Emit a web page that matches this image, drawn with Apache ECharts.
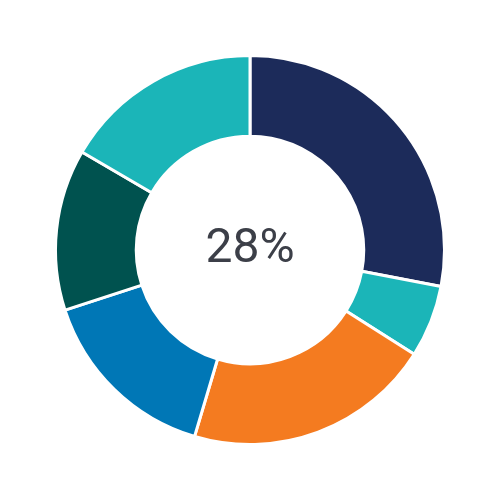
<!DOCTYPE html>
<html lang="en">
<head>
  <meta charset="UTF-8">
  <title>Donut</title>
  <script src="https://cdn.jsdelivr.net/npm/echarts@6/dist/echarts.min.js"></script>
  <style>
    html, body { margin: 0; padding: 0; background: #fff; }
  </style>
</head>
<body>
  <div id="main" style="width: 500px; height: 500px;"></div>
  <script>
    // data, clockwise from 12 o'clock
    var names = ['A', 'B', 'C', 'D', 'E', 'F'];
    var values = [28, 6, 20.6, 15.4, 13.4, 16.6];
    var colors = ['#1c2b5a', '#1bb5b8', '#f47b20', '#0077b6', '#00524f', '#1bb5b8'];
    var centerText = '28%';

    var myChart = echarts.init(document.getElementById('main'));

    var pieData = names.map(function (n, i) {
      return { name: n, value: values[i], itemStyle: { color: colors[i] } };
    });

    var option = {
      animation: false,
      title: {
        text: centerText,
        left: 'center',
        top: 221,
        textStyle: {
          fontFamily: 'Roboto',
          fontWeight: 'normal',
          fontSize: 48,
          color: '#3c3f48'
        }
      },
      series: [
        {
          type: 'pie',
          center: ['50%', '50%'],
          radius: ['45.5%', '77.8%'],
          startAngle: 90,
          clockwise: true,
          label: { show: false },
          labelLine: { show: false },
          itemStyle: { borderColor: '#fff', borderWidth: 3 },
          emphasis: { disabled: true },
          data: pieData
        }
      ]
    };

    myChart.setOption(option);
  </script>
</body>
</html>
